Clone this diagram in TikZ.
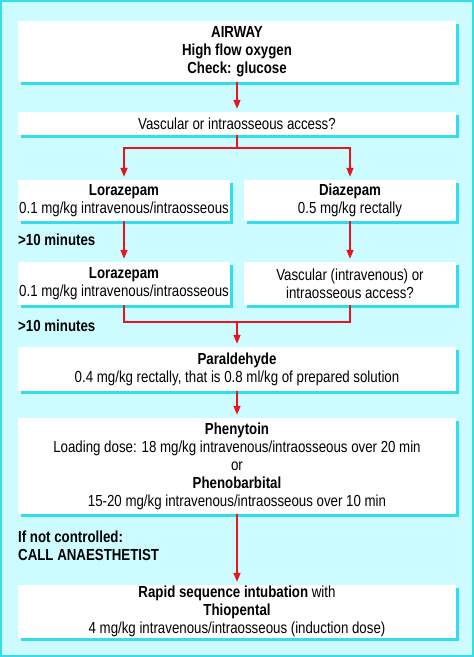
\documentclass[tikz,border=0pt]{standalone}
\usepackage{fontspec}
\setmainfont{Liberation Sans}[FakeStretch=0.83]
\usetikzlibrary{arrows.meta,shadows}
\definecolor{bgc}{HTML}{CCFCFF}
\definecolor{shc}{HTML}{33DDEE}
\definecolor{arr}{HTML}{E8141E}
\begin{document}
\begin{tikzpicture}[x=1pt,y=-1pt,
  box/.style={fill=white, inner sep=0pt, align=center,
    font=\fontsize{16}{18}\selectfont,
    drop shadow={shadow xshift=3pt, shadow yshift=-3pt, fill=shc, opacity=1}},
  full/.style={box, minimum width=438pt},
  half/.style={box, minimum width=212pt},
  lbl/.style={inner sep=0pt, align=left, anchor=west, font=\fontsize{16}{18}\selectfont\bfseries},
  wire/.style={draw=arr, line width=1.5pt},
  conn/.style={wire, -{Triangle[length=9pt,width=7pt]}, shorten >=3pt}]
\useasboundingbox (0,0) rectangle (474,657);
\fill[bgc] (0,0) rectangle (474,657);
\draw[shc, line width=2pt] (1,1) rectangle (473,656);

\node[full, minimum height=61pt] (b1) at (237,51.5) {\textbf{AIRWAY}\\\textbf{High flow oxygen}\\\textbf{Check: glucose}};
\node[full, minimum height=23pt] (b2) at (237,123.5) {Vascular or intraosseous access?};
\node[half, minimum height=41pt] (b3l) at (124,200.5) {\textbf{Lorazepam}\\0.1 mg/kg intravenous/intraosseous};
\node[half, minimum height=41pt] (b3r) at (350,200.5) {\textbf{Diazepam}\\0.5 mg/kg rectally};
\node[half, minimum height=43pt] (b4l) at (124,283.5) {\textbf{Lorazepam}\\0.1 mg/kg intravenous/intraosseous};
\node[half, minimum height=43pt] (b4r) at (350,283.5) {Vascular (intravenous) or\\intraosseous access?};
\node[full, minimum height=44pt] (b5) at (237,369) {\textbf{Paraldehyde}\\0.4 mg/kg rectally, that is 0.8 ml/kg of prepared solution};
\node[full, minimum height=96pt] (b6) at (237,466) {\textbf{Phenytoin}\\Loading dose: 18 mg/kg intravenous/intraosseous over 20 min\\or\\\textbf{Phenobarbital}\\15-20 mg/kg intravenous/intraosseous over 10 min};
\node[full, minimum height=53pt] (b7) at (237,611.5) {\textbf{Rapid sequence intubation} with\\\textbf{Thiopental}\\4 mg/kg intravenous/intraosseous (induction dose)};

\node[lbl] (t1) at (18,240) {>10 minutes};
\node[lbl] (t2) at (18,326) {>10 minutes};
\node[lbl] (t3) at (18,545.5) {If not controlled:\\CALL ANAESTHETIST};

\coordinate (s1) at (237,148);
\coordinate (m1) at (237,322);

\draw[conn] (b1.south) -- (b2.north);
\draw[wire] (b2.south) -- (s1);
\draw[conn] (s1) -| (b3l.north);
\draw[conn] (s1) -| (b3r.north);
\draw[conn] (b3l.south) -- (b4l.north);
\draw[conn] (b3r.south) -- (b4r.north);
\draw[wire] (b4l.south) |- (m1) -| (b4r.south);
\draw[conn] (m1) -- (b5.north);
\draw[conn] (b5.south) -- (b6.north);
\draw[conn] (b6.south) -- (b7.north);
\end{tikzpicture}
\end{document}
